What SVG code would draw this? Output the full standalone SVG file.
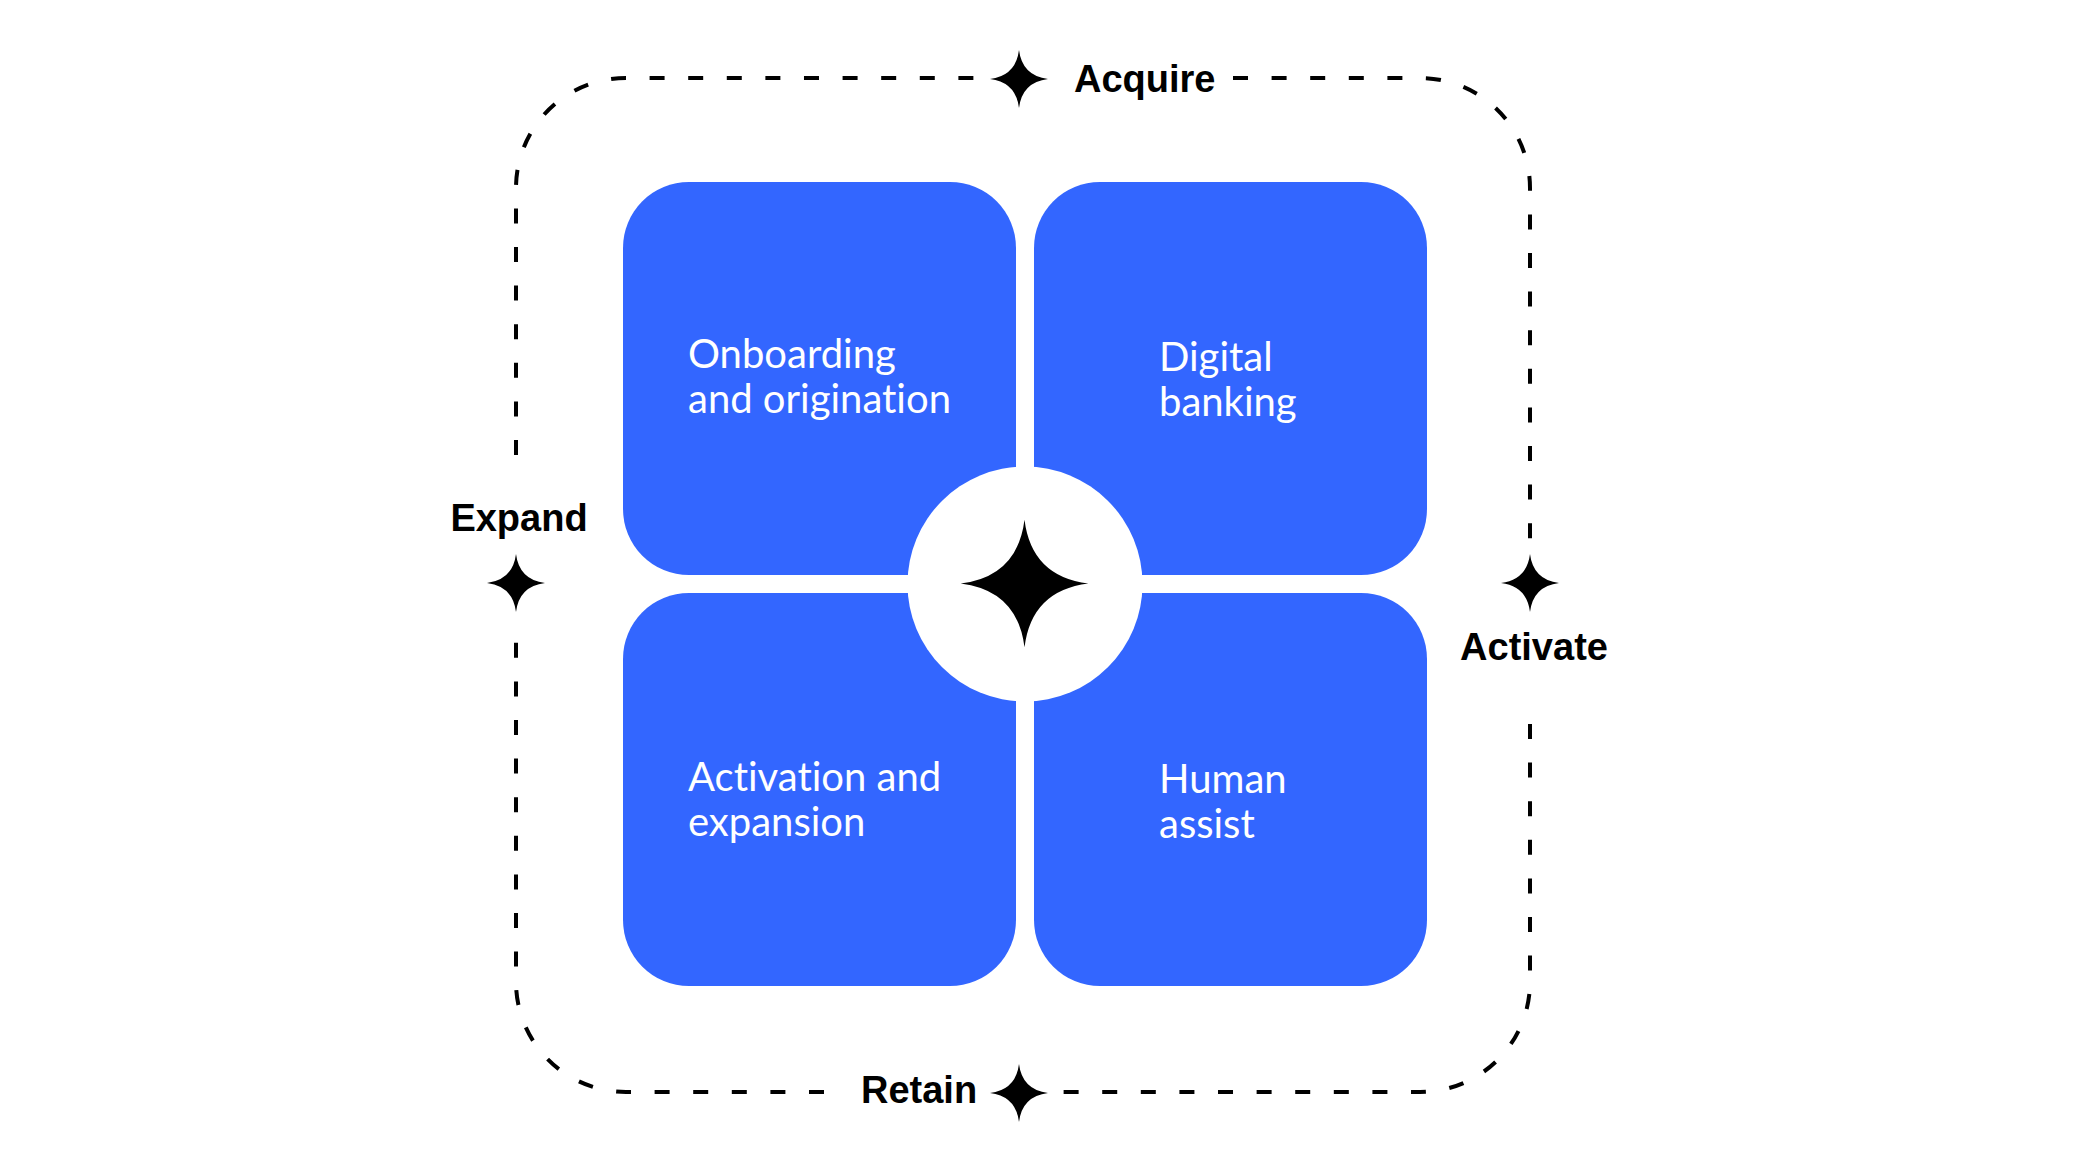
<svg xmlns="http://www.w3.org/2000/svg" width="2084" height="1173" viewBox="0 0 2084 1173">
  <style>
    .box { fill: #3366ff; }
    .boxtxt { font-family: Lato, "Liberation Sans", sans-serif; font-size: 40px; fill: #ffffff; font-variant-ligatures: none; }
    .lbl { font-family: "Liberation Sans", Arial, sans-serif; font-weight: bold; font-size: 38px; fill: #000000; }
    .loop { fill: none; stroke: #000000; stroke-width: 4; stroke-dasharray: 15 23.6; }
    .star { fill: #000000; }
  </style>
  <defs>
    <path id="star" d="M0,-29 Q3.2,-3.2 29,0 Q3.2,3.2 0,29 Q-3.2,3.2 -29,0 Q-3.2,-3.2 0,-29 Z"/>
  </defs>
  <rect width="2084" height="1173" fill="#ffffff"/>

  <g id="connectors">
    <path class="loop" d="M1233,78 H1420 A110,110 0 0 1 1530,188 V543"/>
    <path class="loop" d="M1530,724 V982 A110,110 0 0 1 1420,1092 H1056"/>
    <path class="loop" d="M824,1092 H626 A110,110 0 0 1 516,982 V637"/>
    <path class="loop" d="M516,455 V188 A110,110 0 0 1 626,78 H991"/>
  </g>

  <g id="node-onboarding">
    <rect class="box" x="623" y="182" width="393" height="393" rx="66"/>
    <text class="boxtxt" x="688" y="368">Onboarding</text>
    <text class="boxtxt" x="688" y="413">and origination</text>
  </g>
  <g id="node-digital">
    <rect class="box" x="1034" y="182" width="393" height="393" rx="66"/>
    <text class="boxtxt" x="1159" y="371">Digital</text>
    <text class="boxtxt" x="1159" y="416">banking</text>
  </g>
  <g id="node-activation">
    <rect class="box" x="623" y="593" width="393" height="393" rx="66"/>
    <text class="boxtxt" x="688" y="791">Activation and</text>
    <text class="boxtxt" x="688" y="836">expansion</text>
  </g>
  <g id="node-human">
    <rect class="box" x="1034" y="593" width="393" height="393" rx="66"/>
    <text class="boxtxt" x="1159" y="793">Human</text>
    <text class="boxtxt" x="1159" y="838">assist</text>
  </g>

  <g id="node-hub">
    <circle cx="1025" cy="584" r="117.5" fill="#ffffff"/>
    <use href="#star" class="star" transform="translate(1024.5,583.5) scale(2.2)"/>
  </g>

  <g id="node-acquire">
    <use href="#star" class="star" transform="translate(1019,79)"/>
    <text class="lbl" x="1074" y="92">Acquire</text>
  </g>
  <g id="node-activate">
    <use href="#star" class="star" transform="translate(1530,583)"/>
    <text class="lbl" x="1534" y="660" text-anchor="middle">Activate</text>
  </g>
  <g id="node-retain">
    <use href="#star" class="star" transform="translate(1019,1093)"/>
    <text class="lbl" x="861" y="1103">Retain</text>
  </g>
  <g id="node-expand">
    <use href="#star" class="star" transform="translate(516,583)"/>
    <text class="lbl" x="519" y="531" text-anchor="middle">Expand</text>
  </g>
</svg>
